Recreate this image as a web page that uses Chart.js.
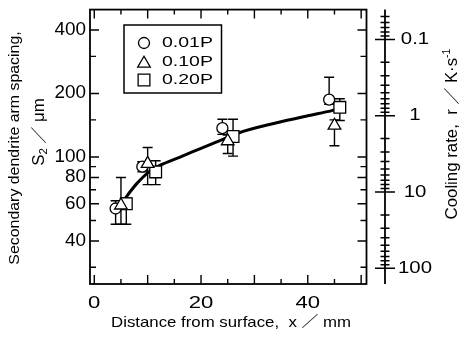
<!DOCTYPE html>
<html>
<head>
<meta charset="utf-8">
<script src="https://cdn.jsdelivr.net/npm/chart.js@4.4.1/dist/chart.umd.min.js"></script>
<style>
  html, body { margin: 0; padding: 0; background: #fff; }
  #wrap { width: 474px; height: 345px; }
</style>
</head>
<body>
<div id="wrap"><canvas id="chart" width="474" height="345"></canvas></div>
<script>
// ---- data ----
const seriesLabels = ['0.01P', '0.10P', '0.20P'];

// 0.01P (circles)
const xCircle = [4, 9, 24, 44];
const sCircle = [57, 90, 137, 187];
const sCircleLo = [48, 85, 128, 178];
const sCircleHi = [62, 95, 151, 239];

// 0.10P (triangles)
const xTriangle = [5, 10, 25, 45];
const sTriangle = [59, 93, 119, 141];
const sTriangleLo = [48, 74, 104, 113];
const sTriangleHi = [80, 111, 127, 150];

// 0.20P (squares)
const xSquare = [6, 11.5, 26, 46];
const sSquare = [60, 85, 125, 172];
const sSquareLo = [48, 74, 101, 149];
const sSquareHi = [64, 96, 151, 189];

// fitted curve, read at points along the drawn line
const xCurve = [5, 8, 10.5, 13, 16.5, 20, 24, 27, 34, 40, 44.5, 46];
const sCurve = [60, 75, 86, 93, 101, 110, 121, 130, 145, 157, 166, 170];

// axis ticks
const xMajorTicks = [0, 10, 20, 30, 40, 50];
const xMinorTicks = [5, 15, 25, 35, 45];
const xTickLabels = [0, 20, 40];
const yTicks = [30, 40, 50, 60, 70, 80, 90, 100, 150, 200, 300, 400];
const yTickLabels = [40, 60, 80, 100, 200, 400];
const rMajorTicks = [0.1, 1, 10, 100];
const rTickLabels = ['0.1', '1', '10', '100'];
const rMinorTicks = [0.05, 0.06, 0.07, 0.08, 0.09,
  0.2, 0.3, 0.4, 0.5, 0.6, 0.7, 0.8, 0.9,
  2, 3, 4, 5, 6, 7, 8, 9,
  20, 30, 40, 50, 60, 70, 80, 90];

const FONT = '"Liberation Sans", Arial, "Noto Sans CJK JP", sans-serif';

const toPoints = (xs, ys) => xs.map((x, i) => ({ x: x, y: ys[i] }));

// text helpers (sx = horizontal stretch of the glyphs)
function drawText(ctx, text, x, y, size, align, sx) {
  ctx.save();
  ctx.font = size + 'px ' + FONT;
  ctx.textBaseline = 'middle';
  const w = ctx.measureText(text).width * sx;
  let left = x;
  if (align === 'center') left = x - w / 2;
  if (align === 'right') left = x - w;
  ctx.translate(left, y);
  ctx.scale(sx, 1);
  ctx.textAlign = 'left';
  ctx.fillText(text, 0, 0);
  ctx.restore();
}

function drawRuns(ctx, runs, cx, cy, rot, sx) {
  ctx.save();
  ctx.translate(cx, cy);
  ctx.rotate(rot);
  ctx.scale(sx, 1);
  let w = 0;
  runs.forEach(r => { ctx.font = r.size + 'px ' + FONT; w += ctx.measureText(r.t).width; });
  let x = -w / 2;
  ctx.textBaseline = 'middle';
  ctx.textAlign = 'left';
  runs.forEach(r => {
    ctx.font = r.size + 'px ' + FONT;
    ctx.fillText(r.t, x, r.dy || 0);
    x += ctx.measureText(r.t).width;
  });
  ctx.restore();
}

// error bars, drawn under the symbols
const errorBars = {
  id: 'errorBars',
  beforeDatasetsDraw(chart) {
    const ctx = chart.ctx;
    const xs = chart.scales.x, ys = chart.scales.y;
    const groups = [
      [xCircle, sCircleLo, sCircleHi],
      [xTriangle, sTriangleLo, sTriangleHi],
      [xSquare, sSquareLo, sSquareHi]
    ];
    ctx.save();
    ctx.strokeStyle = '#000';
    ctx.lineWidth = 1.4;
    groups.forEach(([gx, lo, hi]) => {
      gx.forEach((v, i) => {
        const px = xs.getPixelForValue(v);
        const y1 = ys.getPixelForValue(lo[i]);
        const y2 = ys.getPixelForValue(hi[i]);
        ctx.beginPath();
        ctx.moveTo(px, y1); ctx.lineTo(px, y2);
        ctx.moveTo(px - 5, y1); ctx.lineTo(px + 5, y1);
        ctx.moveTo(px - 5, y2); ctx.lineTo(px + 5, y2);
        ctx.stroke();
      });
    });
    ctx.restore();
  }
};

// frame, inward ticks, cooling-rate axis, labels, legend
const frame = {
  id: 'frame',
  afterDraw(chart) {
    const ctx = chart.ctx;
    const a = chart.chartArea;
    const xs = chart.scales.x, ys = chart.scales.y, rs = chart.scales.r;
    ctx.save();
    ctx.strokeStyle = '#000';
    ctx.fillStyle = '#000';

    ctx.lineWidth = 1.8;
    ctx.strokeRect(a.left, a.top, a.right - a.left, a.bottom - a.top);

    ctx.lineWidth = 1.4;
    ctx.beginPath();
    xMajorTicks.concat(xMinorTicks).forEach(v => {
      const len = xMajorTicks.includes(v) ? 9 : 5;
      const px = xs.getPixelForValue(v);
      ctx.moveTo(px, a.bottom); ctx.lineTo(px, a.bottom - len);
      ctx.moveTo(px, a.top); ctx.lineTo(px, a.top + len);
    });
    yTicks.forEach(v => {
      const len = yTickLabels.includes(v) ? 9 : 6;
      const py = ys.getPixelForValue(v);
      ctx.moveTo(a.left, py); ctx.lineTo(a.left + len, py);
      ctx.moveTo(a.right, py); ctx.lineTo(a.right - len, py);
    });
    ctx.stroke();

    xTickLabels.forEach(v => {
      drawText(ctx, String(v), xs.getPixelForValue(v), 303, 17, 'center', 1.3);
    });
    yTickLabels.forEach(v => {
      drawText(ctx, String(v), 86, ys.getPixelForValue(v), 18, 'right', 1.05);
    });

    // cooling rate axis
    const rx = 385;
    ctx.lineWidth = 1.8;
    ctx.beginPath();
    ctx.moveTo(rx, a.top); ctx.lineTo(rx, a.bottom);
    ctx.stroke();
    ctx.lineWidth = 1.5;
    ctx.beginPath();
    rMajorTicks.forEach(v => {
      const py = rs.getPixelForValue(v);
      ctx.moveTo(rx - 10, py); ctx.lineTo(rx + 10, py);
    });
    rMinorTicks.forEach(v => {
      const py = rs.getPixelForValue(v);
      ctx.moveTo(rx - 4.5, py); ctx.lineTo(rx + 4.5, py);
    });
    ctx.stroke();
    rMajorTicks.forEach((v, i) => {
      drawText(ctx, rTickLabels[i], 415, rs.getPixelForValue(v), 17, 'center', 1.2);
    });

    // axis titles
    drawRuns(ctx, [{ t: 'Distance from surface,  x ／ mm', size: 15 }], 231, 323, 0, 1.12);
    drawRuns(ctx, [{ t: 'Secondary dendrite arm spacing,', size: 15 }], 15, 148, -Math.PI / 2, 1.06);
    drawRuns(ctx, [
      { t: 'S', size: 16 },
      { t: '2', size: 11, dy: 4 },
      { t: ' ／ μm', size: 16 }
    ], 40, 132, -Math.PI / 2, 1.05);
    drawRuns(ctx, [
      { t: 'Cooling rate,  r ／ K·s', size: 16 },
      { t: '-1', size: 10, dy: -6 }
    ], 453, 134, -Math.PI / 2, 1.05);

    // legend
    ctx.lineWidth = 1.5;
    ctx.strokeRect(124, 25, 97.5, 68);
    const rows = [43, 61.5, 80];
    chart.data.datasets.slice(0, 3).forEach((ds, i) => {
      ctx.lineWidth = 1.3;
      ctx.strokeStyle = '#000';
      ctx.fillStyle = '#fff';
      Chart.helpers.drawPoint(ctx, {
        pointStyle: ds.pointStyle,
        radius: ds.pointRadius,
        borderWidth: 1.3,
        rotation: 0
      }, 144, rows[i] + (ds.pointStyle === 'triangle' ? 2 : 0));
      ctx.fillStyle = '#000';
      drawText(ctx, seriesLabels[i], 162, rows[i], 15, 'left', 1.3);
    });
    ctx.restore();
  }
};

const pointStyleBase = {
  backgroundColor: '#fff',
  borderColor: '#000',
  borderWidth: 1.3,
  pointBackgroundColor: '#fff',
  pointBorderColor: '#000',
  pointBorderWidth: 1.3,
  pointHoverRadius: 6,
  showLine: false
};

new Chart(document.getElementById('chart'), {
  type: 'scatter',
  data: {
    datasets: [
      Object.assign({
        label: seriesLabels[0],
        data: toPoints(xCircle, sCircle),
        pointStyle: 'circle',
        pointRadius: 5.5,
        order: 2
      }, pointStyleBase),
      Object.assign({
        label: seriesLabels[1],
        data: toPoints(xTriangle, sTriangle),
        pointStyle: 'triangle',
        pointRadius: 7.3,
        order: 1
      }, pointStyleBase),
      Object.assign({
        label: seriesLabels[2],
        data: toPoints(xSquare, sSquare),
        pointStyle: 'rect',
        pointRadius: 8.3,
        order: 3
      }, pointStyleBase),
      {
        label: 'fit',
        data: toPoints(xCurve, sCurve),
        showLine: true,
        borderColor: '#000',
        borderWidth: 3,
        pointRadius: 0,
        cubicInterpolationMode: 'monotone',
        order: 4
      }
    ]
  },
  options: {
    responsive: false,
    animation: false,
    devicePixelRatio: 1,
    layout: { padding: { left: 90, top: 7, right: 107.5, bottom: 61 } },
    plugins: { legend: { display: false }, tooltip: { enabled: false } },
    scales: {
      x: { type: 'linear', min: -0.8, max: 51, display: false },
      y: { type: 'logarithmic', min: 25, max: 500, display: false, bounds: 'data' },
      r: { type: 'logarithmic', axis: 'y', position: 'right', reverse: true,
           min: 0.0407, max: 161, display: false, bounds: 'data' }
    }
  },
  plugins: [errorBars, frame]
});
</script>
</body>
</html>
